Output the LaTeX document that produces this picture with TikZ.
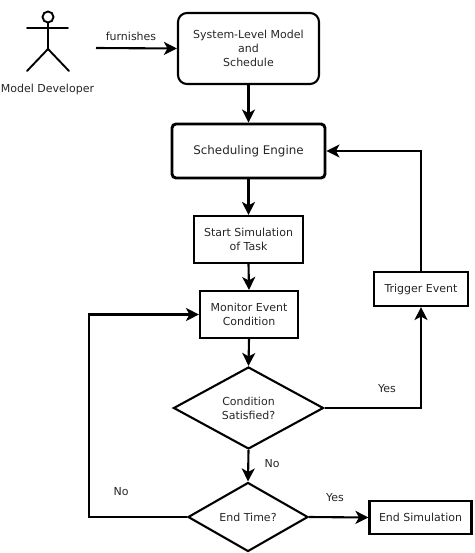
\documentclass[tikz,border=0pt]{standalone}
\usepackage{fontspec}
\setmainfont{DejaVu Sans}
\usetikzlibrary{shapes.geometric,arrows.meta}
\tikzset{
  box/.style={draw=black,line width=2.1pt,rectangle,align=center,inner sep=0pt,text=black!85},
  roundbox/.style={box,rounded corners=9pt},
  decision/.style={draw=black,line width=2.1pt,diamond,align=center,inner sep=0pt,text=black!85},
  label/.style={inner sep=0pt,text=black!85,align=center},
  flow/.style={line width=2.1pt,-{Stealth[length=13pt,width=13pt,inset=3.5pt]}},
  figure/.style={line width=1.9pt,line cap=round}
}
\begin{document}
\begin{tikzpicture}[x=1pt,y=-1pt,font=\fontsize{11pt}{14pt}\selectfont]
\useasboundingbox (0,0) rectangle (474,553);
\node[roundbox,minimum width=141pt,minimum height=71pt] (sys) at (248.5,48.5) {System-Level Model\\and\\Schedule};
\node[roundbox,rounded corners=4pt,line width=2.9pt,minimum width=153pt,minimum height=54pt] (engine) at (248.5,151) {\fontsize{11.9pt}{14pt}\selectfont Scheduling Engine};
\node[box,minimum width=109pt,minimum height=47pt] (start) at (248.5,239.5) {Start Simulation\\of Task};
\node[box,minimum width=98pt,minimum height=47pt] (monitor) at (249,314.5) {Monitor Event\\Condition};
\node[box,minimum width=94pt,minimum height=34pt] (trigger) at (421,289) {Trigger Event};
\node[decision,minimum width=150pt,minimum height=82pt] (cond) at (248.5,408) {Condition\\Satisfied?};
\node[decision,minimum width=120pt,minimum height=69pt] (endt) at (248,517) {End Time?};
\node[box,minimum width=102pt,minimum height=33pt] (ends) at (420.5,517.5) {End Simulation};
% actor
\node[draw=black,circle,line width=1.9pt,minimum size=11pt,inner sep=0pt] (head) at (48,17) {};
\coordinate (hip) at (48,49);
\draw[figure] (head.south) -- (hip);
\draw[figure] (27,28) -- (68,28);
\draw[figure] (27,71) -- (hip) -- (69,71);
\node[label] (dev) at (47.5,89) {Model Developer};
% connectors
\coordinate (src) at (96,48);
\node[label] (furn) at (131,36) {furnishes};
\draw[flow] (src) -- (sys.west);
\draw[flow] (sys.south) -- (engine.north);
\draw[flow] (engine.south) -- (start.north);
\draw[flow] (start.south) -- (monitor.north);
\draw[flow] (monitor.south) -- (cond.north);
\draw[flow] (cond.south) -- (endt.north);
\draw[flow] (endt.east) -- (ends.west);
\draw[flow] (cond.east) -| (trigger.south);
\draw[flow] (trigger.north) |- (engine.east);
\coordinate (loop) at (89,517);
\draw[flow] (endt.west) -- (loop) |- (monitor.west);
\node[label] at (387,389) {Yes};
\node[label] at (272,464) {No};
\node[label] at (121,492) {No};
\node[label] at (335,498) {Yes};
\end{tikzpicture}
\end{document}
